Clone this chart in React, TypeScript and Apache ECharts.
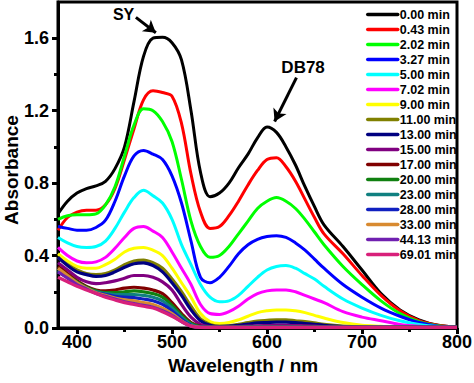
import React, { useEffect, useRef } from "react";
import * as echarts from "echarts";

const wavelengths = [380,390,400,410,420,430,440,450,460,470,480,490,500,510,520,530,540,550,560,570,580,590,600,610,620,630,640,650,660,680,700,720,740,760,780,800];

const seriesNames = ["0.00 min","0.43 min","2.02 min","3.27 min","5.00 min","7.02 min","9.00 min","11.00 min","13.00 min","15.00 min","17.00 min","20.00 min","23.00 min","28.00 min","33.00 min","44.13 min","69.01 min"];

const seriesColors = ["#000000","#ff0000","#00ff00","#0000ff","#00ffff","#ff00ff","#ffff00","#808000","#000080","#800080","#800000","#108010","#108080","#1020c0","#d88a30","#7020b0","#d8207a"];

const a000 = [0.63,0.70,0.745,0.77,0.785,0.81,0.88,1.00,1.25,1.50,1.60,1.605,1.575,1.48,1.20,0.86,0.725,0.745,0.80,0.885,0.96,1.05,1.11,1.08,1.00,0.90,0.78,0.67,0.57,0.45,0.32,0.19,0.10,0.045,0.015,0.005];
const a043 = [0.54,0.61,0.64,0.65,0.65,0.68,0.77,0.93,1.10,1.26,1.31,1.30,1.28,1.13,0.85,0.64,0.55,0.56,0.62,0.70,0.79,0.87,0.93,0.94,0.89,0.81,0.71,0.61,0.52,0.41,0.29,0.18,0.095,0.04,0.015,0.005];
const a202 = [0.60,0.62,0.625,0.625,0.63,0.68,0.78,0.95,1.12,1.21,1.20,1.14,1.03,0.82,0.59,0.45,0.39,0.40,0.45,0.52,0.59,0.66,0.70,0.72,0.70,0.66,0.60,0.53,0.46,0.34,0.24,0.15,0.08,0.035,0.012,0.004];
const a327 = [0.56,0.55,0.54,0.54,0.555,0.595,0.70,0.84,0.95,0.98,0.96,0.93,0.84,0.69,0.48,0.28,0.25,0.28,0.34,0.41,0.46,0.49,0.505,0.51,0.50,0.47,0.43,0.38,0.33,0.24,0.17,0.11,0.065,0.03,0.01,0.004];
const a500 = [0.50,0.47,0.45,0.445,0.45,0.48,0.55,0.64,0.72,0.76,0.73,0.69,0.60,0.46,0.35,0.24,0.17,0.145,0.15,0.18,0.23,0.28,0.32,0.34,0.345,0.33,0.30,0.27,0.23,0.16,0.11,0.07,0.04,0.02,0.008,0.003];
const a702 = [0.445,0.40,0.37,0.36,0.365,0.39,0.44,0.50,0.55,0.56,0.535,0.50,0.42,0.33,0.24,0.13,0.08,0.075,0.09,0.12,0.16,0.19,0.205,0.21,0.21,0.20,0.18,0.16,0.14,0.09,0.06,0.04,0.02,0.01,0.005,0.003];
const a900 = [0.41,0.37,0.34,0.33,0.33,0.35,0.38,0.42,0.44,0.445,0.43,0.40,0.33,0.25,0.17,0.08,0.035,0.025,0.03,0.045,0.065,0.085,0.095,0.10,0.10,0.095,0.085,0.07,0.055,0.03,0.015,0.01,0.005,0.003,0.003,0.003];
const a1100 = [0.39,0.35,0.32,0.30,0.295,0.30,0.32,0.35,0.37,0.375,0.36,0.33,0.27,0.20,0.12,0.05,0.02,0.01,0.012,0.02,0.03,0.038,0.042,0.045,0.045,0.04,0.035,0.028,0.02,0.01,0.005,0.003,0.003,0.003,0.003,0.003];
const a1300 = [0.39,0.345,0.31,0.295,0.285,0.29,0.31,0.335,0.355,0.36,0.345,0.31,0.25,0.18,0.10,0.04,0.015,0.008,0.01,0.015,0.022,0.028,0.03,0.032,0.032,0.03,0.025,0.02,0.015,0.008,0.004,0.003,0.003,0.003,0.003,0.003];
const a1500 = [0.36,0.32,0.28,0.255,0.245,0.25,0.26,0.275,0.29,0.29,0.28,0.255,0.21,0.13,0.06,0.02,0.008,0.006,0.006,0.008,0.01,0.012,0.013,0.014,0.014,0.013,0.012,0.01,0.008,0.006,0.004,0.003,0.003,0.003,0.003,0.003];
const a1700 = [0.34,0.30,0.26,0.23,0.21,0.205,0.21,0.22,0.225,0.22,0.21,0.19,0.14,0.08,0.03,0.01,0.006,0.005,0.005,0.006,0.007,0.008,0.008,0.008,0.008,0.007,0.006,0.005,0.005,0.004,0.003,0.003,0.003,0.003,0.003,0.003];
const a2000 = [0.33,0.29,0.255,0.225,0.205,0.195,0.195,0.20,0.205,0.20,0.19,0.17,0.125,0.07,0.025,0.008,0.005,0.004,0.004,0.005,0.006,0.007,0.007,0.007,0.007,0.006,0.005,0.005,0.004,0.004,0.003,0.003,0.003,0.003,0.003,0.003];
const a2300 = [0.32,0.285,0.25,0.22,0.20,0.19,0.185,0.185,0.185,0.18,0.17,0.15,0.11,0.06,0.02,0.006,0.004,0.003,0.003,0.004,0.005,0.005,0.005,0.005,0.005,0.005,0.004,0.004,0.003,0.003,0.003,0.003,0.003,0.003,0.003,0.003];
const a2800 = [0.31,0.28,0.245,0.215,0.195,0.185,0.175,0.17,0.168,0.16,0.15,0.13,0.095,0.05,0.015,0.005,0.003,0.003,0.003,0.003,0.004,0.004,0.004,0.004,0.004,0.004,0.003,0.003,0.003,0.003,0.003,0.003,0.003,0.003,0.003,0.003];
const a3300 = [0.33,0.29,0.25,0.22,0.195,0.18,0.165,0.155,0.15,0.14,0.13,0.11,0.08,0.04,0.012,0.004,0.003,0.003,0.003,0.003,0.003,0.003,0.003,0.003,0.003,0.003,0.003,0.003,0.003,0.003,0.003,0.003,0.003,0.003,0.003,0.003];
const a4413 = [0.31,0.275,0.24,0.215,0.19,0.175,0.16,0.145,0.135,0.125,0.115,0.095,0.07,0.035,0.01,0.003,0.003,0.003,0.003,0.003,0.003,0.003,0.003,0.003,0.003,0.003,0.003,0.003,0.003,0.003,0.003,0.003,0.003,0.003,0.003,0.003];
const a6901 = [0.28,0.255,0.23,0.21,0.19,0.17,0.155,0.14,0.13,0.12,0.11,0.09,0.065,0.035,0.01,0.003,0.002,0.002,0.002,0.002,0.002,0.002,0.002,0.002,0.002,0.002,0.002,0.002,0.002,0.002,0.002,0.002,0.002,0.002,0.002,0.002];

const seriesValues = [a000,a043,a202,a327,a500,a702,a900,a1100,a1300,a1500,a1700,a2000,a2300,a2800,a3300,a4413,a6901];

const xMajorTicks = [400,500,600,700,800];
const xMinorTicks = [450,550,650,750];
const yMajorTicks = [0,0.4,0.8,1.2,1.6];
const yMinorTicks = [0.2,0.6,1.0,1.4];

const FONT = 'Arial, "Liberation Sans", Helvetica, sans-serif';

export default function App() {
  const ref = useRef<HTMLDivElement>(null);
  useEffect(() => {
    if (!ref.current) return;
    const chart = echarts.init(ref.current, null, { renderer: "svg" });
    const series: any[] = seriesNames.map((name, i) => ({
      name,
      type: "line",
      data: wavelengths.map((w, j) => [w, seriesValues[i][j]]),
      showSymbol: false,
      symbol: "none",
      smooth: 0.35,
      lineStyle: { color: seriesColors[i], width: i >= 7 ? 3.2 : 3 },
      itemStyle: { color: seriesColors[i] },
      z: 2,
    }));
    series[0].markLine = {
      silent: true,
      symbol: ["none", "arrow"],
      symbolSize: [11, 12],
      label: { show: false },
      lineStyle: { color: "#000", width: 3, type: "solid" },
      data: [
        [{ coord: [462, 1.715] }, { coord: [483, 1.63] }],
        [{ coord: [631, 1.382] }, { coord: [608, 1.14] }],
      ],
    };
    series[0].markPoint = {
      silent: true,
      symbol: "circle",
      symbolSize: 0,
      label: {
        show: true,
        position: "inside",
        color: "#000",
        fontFamily: FONT,
        fontWeight: "bold",
        fontSize: 17,
      },
      data: [
        { name: "SY", coord: [449, 1.73], label: { formatter: "SY", fontSize: 16 } },
        { name: "DB78", coord: [638, 1.438], label: { formatter: "DB78" } },
      ],
    };
    chart.setOption({
      animation: false,
      backgroundColor: "#fff",
      grid: {
        left: 58,
        right: 17,
        top: 2,
        bottom: 55,
        containLabel: false,
        outerBoundsMode: "none",
        show: true,
        borderColor: "#000",
        borderWidth: 3,
        backgroundColor: "transparent",
      },
      legend: {
        orient: "vertical",
        left: 366,
        top: 8,
        padding: 0,
        itemWidth: 30,
        itemHeight: 14,
        itemGap: 2,
        itemStyle: { opacity: 0, borderWidth: 0 },
        lineStyle: { width: 3.5, cap: "round", opacity: 1 },
        textStyle: { fontSize: 12.5, fontWeight: "bold", color: "#000", fontFamily: FONT, padding: [0, 0, 0, -3] },
        data: seriesNames,
      },
      xAxis: [
        {
          type: "value",
          min: 380,
          max: 800,
          position: "bottom",
          name: "Wavelength / nm",
          nameLocation: "middle",
          nameGap: 28,
          nameMoveOverlap: false,
          nameTextStyle: { fontSize: 19, fontWeight: "bold", color: "#000", fontFamily: FONT, padding: [0, 29, 0, 0] },
          axisLine: { show: true, onZero: false, lineStyle: { color: "#000", width: 3 } },
          axisTick: { show: true, customValues: xMajorTicks, length: 6, lineStyle: { color: "#000", width: 3 } },
          axisLabel: { customValues: xMajorTicks, fontSize: 18, fontWeight: "bold", color: "#000", fontFamily: FONT, margin: 5 },
          splitLine: { show: false },
        },
        {
          type: "value",
          min: 380,
          max: 800,
          position: "bottom",
          axisLine: { show: false },
          axisTick: { show: true, customValues: xMinorTicks, length: 4, lineStyle: { color: "#000", width: 3 } },
          axisLabel: { show: false },
          splitLine: { show: false },
        },
      ],
      yAxis: [
        {
          type: "value",
          min: 0,
          max: 1.8,
          position: "left",
          name: "Absorbance",
          nameLocation: "middle",
          nameRotate: 90,
          nameGap: 37,
          nameMoveOverlap: false,
          nameTextStyle: { fontSize: 19, fontWeight: "bold", color: "#000", fontFamily: FONT, padding: [0, 10, 0, 0] },
          axisLine: { show: true, onZero: false, lineStyle: { color: "#000", width: 3 } },
          axisTick: { show: true, customValues: yMajorTicks, length: 6, lineStyle: { color: "#000", width: 3 } },
          axisLabel: {
            customValues: yMajorTicks,
            fontSize: 18,
            fontWeight: "bold",
            color: "#000",
            fontFamily: FONT,
            margin: 9,
            formatter: (v: number) => v.toFixed(1),
          },
          splitLine: { show: false },
        },
        {
          type: "value",
          min: 0,
          max: 1.8,
          position: "left",
          axisLine: { show: false },
          axisTick: { show: true, customValues: yMinorTicks, length: 4, lineStyle: { color: "#000", width: 3 } },
          axisLabel: { show: false },
          splitLine: { show: false },
        },
      ],
      series,
    });
    return () => chart.dispose();
  }, []);
  return (
    <div
      ref={ref}
      style={{ position: "fixed", left: 0, top: 0, width: 474, height: 383, background: "#fff" }}
    />
  );
}
